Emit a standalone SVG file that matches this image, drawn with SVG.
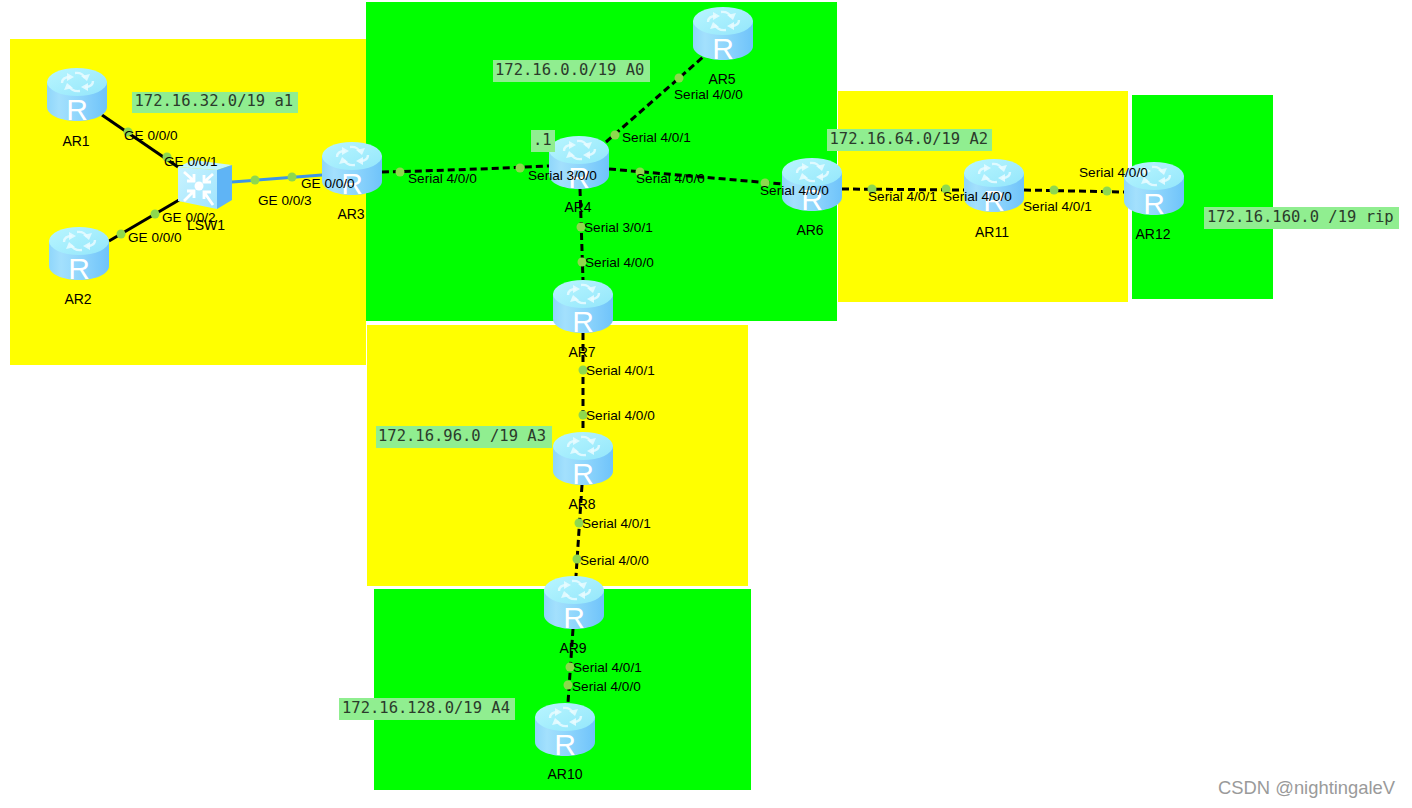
<svg xmlns="http://www.w3.org/2000/svg" xmlns:xlink="http://www.w3.org/1999/xlink" width="1412" height="808" viewBox="0 0 1412 808">
<style>
.yz{fill:#ffff00}.gz{fill:#00ff00}
.solid{stroke:#000;stroke-width:3;fill:none}
.dash{stroke:#000;stroke-width:3;fill:none;stroke-dasharray:7 4}
.blue{stroke:#3d94e6;stroke-width:3;fill:none}
.dot{fill:#8ed84e}
.name{font:14px "Liberation Sans",Arial,sans-serif;fill:#000;text-anchor:middle}
.port{font:13.6px "Liberation Sans",Arial,sans-serif;fill:#000}
.abg{fill:#90ee90}
.atx{font:15.5px "DejaVu Sans Mono",monospace;fill:#2b3b2b}
.mark{font:18.4px "Liberation Sans",Arial,sans-serif;fill:#9a9a9a}
.ar{stroke:#e9fbff;stroke-width:2.4;fill:none;stroke-opacity:.85}
.arh{fill:#e9fbff;fill-opacity:.85}
.sw{stroke:#fff;stroke-width:2.8;fill:none}
</style>
<defs>
<linearGradient id="body" x1="0" x2="1" y1="0" y2="0">
<stop offset="0" stop-color="#8fd6fb"/><stop offset=".2" stop-color="#a3e0fd"/><stop offset=".55" stop-color="#8ed5fc"/><stop offset="1" stop-color="#6fc3fa"/>
</linearGradient>
<linearGradient id="top" x1="0" x2="1" y1="0" y2="1">
<stop offset="0" stop-color="#b9f6ff"/><stop offset="1" stop-color="#93e6fb"/>
</linearGradient>
<linearGradient id="front" x1="0" x2="1" y1="0" y2="1">
<stop offset="0" stop-color="#c9f3ff"/><stop offset="1" stop-color="#a0e4fd"/>
</linearGradient>
<symbol id="router" width="60" height="54" viewBox="0 0 60 54" overflow="visible">
<path d="M0 14V39C0 47 13.500 53 30 53S60 47 60 39V14Z" fill="url(#body)"/>
<ellipse cx="30" cy="14" rx="30" ry="14" fill="url(#top)"/>
<g class="ar">
<path d="M15 15Q15 9 23 9"/>
<path d="M28 5Q35 4 38 10"/>
<path d="M46 13Q46 19 38 19"/>
<path d="M33 23Q25 24 22 18"/>
</g>
<g class="arh">
<path d="M27 9L20 5V13Z"/>
<path d="M40 13L43 6L34 8Z"/>
<path d="M34 19L41 15V23Z"/>
<path d="M20 15L17 22L26 20Z"/>
</g>
<text x="30" y="51.500" text-anchor="middle" font-family="'Liberation Sans',Arial,sans-serif" font-size="30" fill="#fff">R</text>
</symbol>
</defs>

<rect width="1412" height="808" fill="#fff"/>

<g id="zones">
<rect class="yz" x="10" y="39" width="356" height="326"/>
<rect class="gz" x="366" y="2" width="471" height="319"/>
<rect class="yz" x="838" y="91" width="290" height="211"/>
<rect class="gz" x="1132" y="95" width="141" height="204"/>
<rect class="yz" x="367" y="325" width="381" height="261"/>
<rect class="gz" x="374" y="589" width="377" height="201"/>
</g>

<g id="connectors">
<line class="solid" x1="102" y1="115" x2="178" y2="167"/>
<line class="solid" x1="179" y1="200" x2="109" y2="241"/>
<line class="blue" x1="232" y1="182" x2="322" y2="175"/>
<path class="dash" d="M382 172Q465 170 549 166"/>
<line class="dash" x1="606" y1="142" x2="703" y2="57"/>
<line class="dash" x1="609" y1="169" x2="782" y2="184"/>
<line class="dash" x1="580" y1="189" x2="583" y2="280"/>
<line class="dash" x1="583" y1="333" x2="583" y2="432"/>
<line class="dash" x1="582" y1="485" x2="576" y2="576"/>
<line class="dash" x1="573" y1="629" x2="568" y2="703"/>
<line class="dash" x1="842" y1="189" x2="964" y2="190"/>
<line class="dash" x1="1024" y1="190" x2="1124" y2="192"/>
<g>
<circle class="dot" cx="128" cy="132" r="4.500"/><circle class="dot" cx="167" cy="157" r="4.500"/>
<circle class="dot" cx="155" cy="214" r="4.500"/><circle class="dot" cx="121" cy="234" r="4.500"/>
<circle class="dot" cx="255" cy="180" r="4.500"/><circle class="dot" cx="292" cy="177" r="4.500"/>
<circle class="dot" cx="400" cy="172" r="4.500"/><circle class="dot" cx="520" cy="168" r="4.500"/>
<circle class="dot" cx="615" cy="135" r="4.500"/><circle class="dot" cx="679" cy="78" r="4.500"/>
<circle class="dot" cx="640" cy="172" r="4.500"/><circle class="dot" cx="765" cy="183" r="4.500"/>
<circle class="dot" cx="581" cy="227" r="4.500"/><circle class="dot" cx="582" cy="262" r="4.500"/>
<circle class="dot" cx="583" cy="370" r="4.500"/><circle class="dot" cx="583" cy="415" r="4.500"/>
<circle class="dot" cx="579" cy="523" r="4.500"/><circle class="dot" cx="577" cy="559" r="4.500"/>
<circle class="dot" cx="570" cy="667" r="4.500"/><circle class="dot" cx="568" cy="685" r="4.500"/>
<circle class="dot" cx="872" cy="189" r="4.500"/><circle class="dot" cx="946" cy="189" r="4.500"/>
<circle class="dot" cx="1054" cy="190" r="4.500"/><circle class="dot" cx="1107" cy="191" r="4.500"/>
</g>
</g>

<g id="AR1"><use href="#router" x="47" y="68" width="60" height="54"/><text class="name" x="76" y="146">AR1</text></g>
<g id="AR2"><use href="#router" x="49" y="227" width="60" height="54"/><text class="name" x="78" y="304">AR2</text></g>
<g id="AR3"><use href="#router" x="322" y="142" width="60" height="54"/><text class="name" x="351" y="219">AR3</text></g>
<g id="AR4"><use href="#router" x="549" y="136" width="60" height="54"/><text class="name" x="578" y="212">AR4</text></g>
<g id="AR5"><use href="#router" x="693" y="7" width="60" height="54"/><text class="name" x="722" y="84">AR5</text></g>
<g id="AR6"><use href="#router" x="782" y="158" width="60" height="54"/><text class="name" x="810" y="235">AR6</text></g>
<g id="AR7"><use href="#router" x="553" y="280" width="60" height="54"/><text class="name" x="582" y="357">AR7</text></g>
<g id="AR8"><use href="#router" x="553" y="432" width="60" height="54"/><text class="name" x="582" y="509">AR8</text></g>
<g id="AR9"><use href="#router" x="544" y="576" width="60" height="54"/><text class="name" x="573" y="653">AR9</text></g>
<g id="AR10"><use href="#router" x="535" y="703" width="60" height="54"/><text class="name" x="565" y="779">AR10</text></g>
<g id="AR11"><use href="#router" x="964" y="159" width="60" height="54"/><text class="name" x="992" y="237">AR11</text></g>
<g id="AR12"><use href="#router" x="1124" y="162" width="60" height="54"/><text class="name" x="1153" y="239">AR12</text></g>
<g id="LSW1">
<path d="M178 167L193 160L232 165L217 170Z" fill="#c4f6ff"/>
<path d="M217 170L232 165V200L217 209Z" fill="#5fb4f5"/>
<path d="M178 167L217 170V209L178 201Z" fill="url(#front)"/>
<circle cx="199" cy="186" r="4.500" fill="#fff"/>
<g class="sw">
<path d="M184 172L194 181M194 174V181H187"/>
<path d="M213 174L204 182M204 175V182H211"/>
<path d="M184 201L194 191M187 191H194V198"/>
<path d="M213 205L204 192M211 192H204V199"/>
</g>
<text class="name" x="206" y="230">LSW1</text>
</g>

<g id="port-labels">
<text class="port" x="124" y="140">GE 0/0/0</text>
<text class="port" x="164" y="166">GE 0/0/1</text>
<text class="port" x="162" y="222">GE 0/0/2</text>
<text class="port" x="128" y="242">GE 0/0/0</text>
<text class="port" x="258" y="205">GE 0/0/3</text>
<text class="port" x="301" y="188">GE 0/0/0</text>
<text class="port" x="408" y="183">Serial 4/0/0</text>
<text class="port" x="528" y="180">Serial 3/0/0</text>
<text class="port" x="622" y="142">Serial 4/0/1</text>
<text class="port" x="674" y="99">Serial 4/0/0</text>
<text class="port" x="636" y="183">Serial 4/0/0</text>
<text class="port" x="760" y="195">Serial 4/0/0</text>
<text class="port" x="584" y="232">Serial 3/0/1</text>
<text class="port" x="585" y="267">Serial 4/0/0</text>
<text class="port" x="586" y="375">Serial 4/0/1</text>
<text class="port" x="586" y="420">Serial 4/0/0</text>
<text class="port" x="582" y="528">Serial 4/0/1</text>
<text class="port" x="580" y="565">Serial 4/0/0</text>
<text class="port" x="573" y="672">Serial 4/0/1</text>
<text class="port" x="572" y="691">Serial 4/0/0</text>
<text class="port" x="868" y="201">Serial 4/0/1</text>
<text class="port" x="943" y="201">Serial 4/0/0</text>
<text class="port" x="1023" y="211">Serial 4/0/1</text>
<text class="port" x="1079" y="177">Serial 4/0/0</text>
</g>

<g id="area-labels">
<rect class="abg" x="132" y="92" width="166" height="21"/><text class="atx" x="134.500" y="106">172.16.32.0/19 a1</text>
<rect class="abg" x="493" y="60" width="157" height="22"/><text class="atx" x="495" y="75">172.16.0.0/19 A0</text>
<rect class="abg" x="531" y="130" width="24" height="22"/><text class="atx" x="533" y="145">.1</text>
<rect class="abg" x="827" y="129" width="165" height="22"/><text class="atx" x="829.500" y="144">172.16.64.0/19 A2</text>
<rect class="abg" x="376" y="426" width="176" height="22"/><text class="atx" x="378" y="441">172.16.96.0 /19 A3</text>
<rect class="abg" x="339" y="698" width="176" height="22"/><text class="atx" x="342" y="713">172.16.128.0/19 A4</text>
<rect class="abg" x="1204" y="207" width="195" height="22"/><text class="atx" x="1207" y="222">172.16.160.0 /19 rip</text>
</g>

<text class="mark" x="1218" y="794">CSDN @nightingaleV</text>
</svg>
